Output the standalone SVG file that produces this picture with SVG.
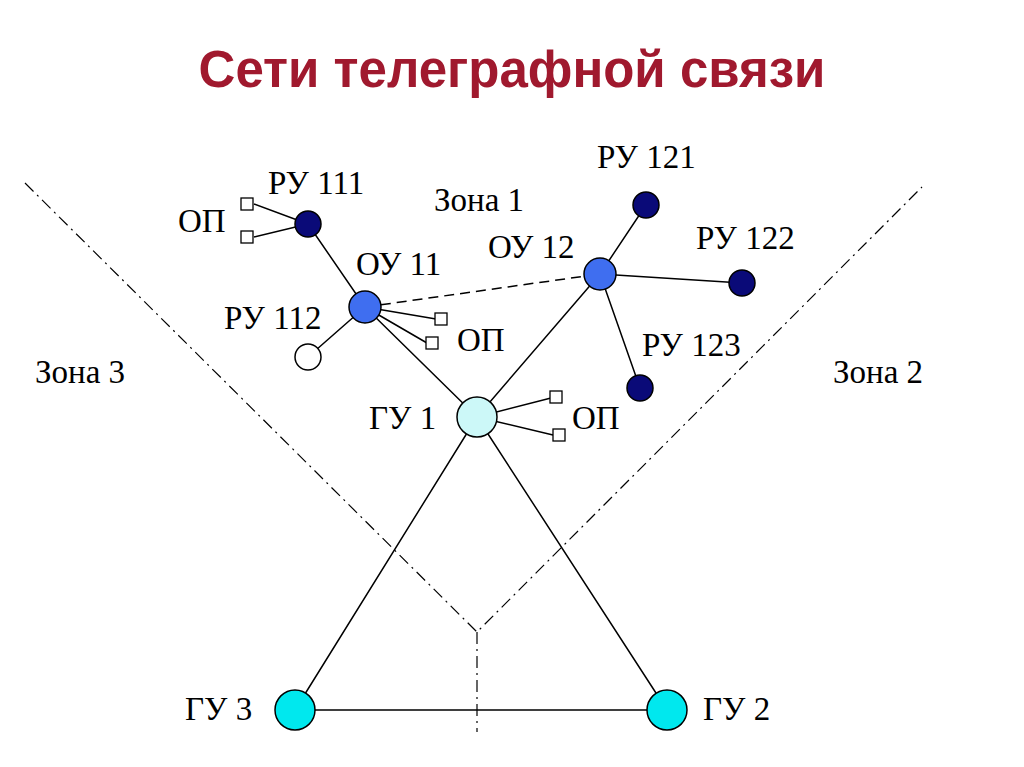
<svg xmlns="http://www.w3.org/2000/svg" width="1024" height="767" viewBox="0 0 1024 767">
<style>
.t{font-family:"Liberation Serif",serif;font-size:33px;fill:#000}
.ln{stroke:#000;stroke-width:1.5;fill:none}
.dd{stroke:#000;stroke-width:1.2;fill:none;stroke-dasharray:12 5 2 5}
.sq{fill:#fff;stroke:#000;stroke-width:1.3}
.nd{stroke:#000;stroke-width:1.5}
</style>
<rect width="1024" height="767" fill="#fff"/>
<text x="512" y="87" text-anchor="middle" style="font-family:'Liberation Sans',sans-serif;font-weight:bold;font-size:51px;fill:#A0192E">Сети телеграфной связи</text>
<g id="zones">
<path class="dd" d="M25 183 L477 632 L922 187 M477 632 L477 732"/>
</g>
<g id="connectors">
<path class="ln" d="M308 224 L365 307 M365 307 L308 357 M365 307 L477 417 M477 417 L600 274 M600 274 L646 205 M600 274 L742 283 M600 274 L640 388 M477 417 L295 710 M477 417 L667 710 M295 710 L667 710"/>
<path class="ln" d="M365 307 L600 274" stroke-dasharray="10 6"/>
<path class="ln" d="M308 224 L254 204 M308 224 L254 237 M365 307 L436 319 M365 307 L427 343 M477 417 L551 398 M477 417 L553 435"/>
</g>
<g id="op">
<rect class="sq" x="241" y="198" width="12" height="12"/>
<rect class="sq" x="241" y="231" width="12" height="12"/>
<rect class="sq" x="435" y="313" width="12" height="12"/>
<rect class="sq" x="426" y="337" width="12" height="12"/>
<rect class="sq" x="550" y="391" width="12" height="12"/>
<rect class="sq" x="553" y="429" width="12" height="12"/>
</g>
<g id="ru111"><circle class="nd" cx="308" cy="224" r="13" fill="#0A0A78"/></g>
<g id="ou11"><circle class="nd" cx="365" cy="307" r="16" fill="#3F6EF0"/></g>
<g id="ru112"><circle class="nd" cx="308" cy="357" r="13" fill="#fff"/></g>
<g id="gu1"><circle class="nd" cx="477" cy="417" r="20" fill="#CCF8F8"/></g>
<g id="ou12"><circle class="nd" cx="600" cy="274" r="16" fill="#3F6EF0"/></g>
<g id="ru121"><circle class="nd" cx="646" cy="205" r="13" fill="#0A0A78"/></g>
<g id="ru122"><circle class="nd" cx="742" cy="283" r="13" fill="#0A0A78"/></g>
<g id="ru123"><circle class="nd" cx="640" cy="388" r="13" fill="#0A0A78"/></g>
<g id="gu3"><circle class="nd" cx="295" cy="710" r="20" fill="#00E8EE"/></g>
<g id="gu2"><circle class="nd" cx="667" cy="710" r="20" fill="#00E8EE"/></g>
<g id="labels">
<text class="t" x="268" y="194">РУ 111</text>
<text class="t" x="178" y="232">ОП</text>
<text class="t" x="434" y="211">Зона 1</text>
<text class="t" x="356" y="275">ОУ 11</text>
<text class="t" x="224" y="329">РУ 112</text>
<text class="t" x="457" y="351">ОП</text>
<text class="t" x="488" y="258">ОУ 12</text>
<text class="t" x="597" y="168">РУ 121</text>
<text class="t" x="696" y="249">РУ 122</text>
<text class="t" x="642" y="356">РУ 123</text>
<text class="t" x="35" y="383">Зона 3</text>
<text class="t" x="833" y="383">Зона 2</text>
<text class="t" x="369" y="429">ГУ 1</text>
<text class="t" x="572" y="429">ОП</text>
<text class="t" x="185" y="720">ГУ 3</text>
<text class="t" x="703" y="720">ГУ 2</text>
</g>
</svg>
